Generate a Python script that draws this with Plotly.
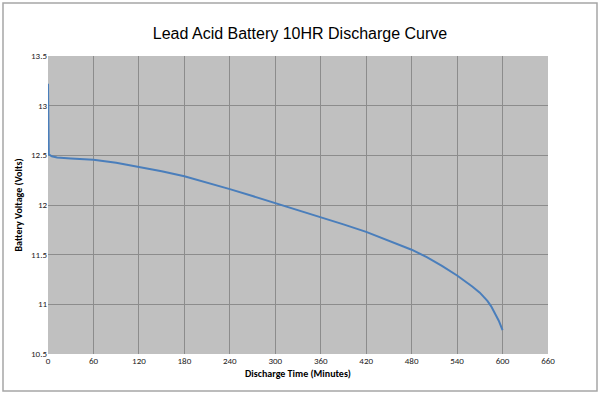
import plotly.graph_objects as go

# Data
time_min = [0, 1, 5, 12, 30, 45, 60, 90, 120, 150, 180, 210, 240, 270, 300, 330,
            360, 390, 420, 450, 480, 500, 520, 540, 550, 560, 570, 575, 580, 585,
            590, 595, 600]
voltage = [13.22, 12.51, 12.49, 12.478, 12.468, 12.463, 12.455, 12.425, 12.385, 12.34,
           12.29, 12.228, 12.16, 12.09, 12.02, 11.95, 11.88, 11.805, 11.73, 11.643,
           11.55, 11.475, 11.388, 11.29, 11.236, 11.18, 11.118, 11.08, 11.035, 10.98,
           10.915, 10.835, 10.74]

x_ticks = [0, 60, 120, 180, 240, 300, 360, 420, 480, 540, 600, 660]
y_ticks = [10.5, 11, 11.5, 12, 12.5, 13, 13.5]
y_tick_labels = ["10.5", "11", "11.5", "12", "12.5", "13", "13.5"]

W, H = 600, 394
ml, mr, mt, mb = 48, 52, 56, 40
pw = W - ml - mr
ph = H - mt - mb


def px_x(p):
    return (p - ml) / pw


def px_y(p):
    return (H - mb - p) / ph


fig = go.Figure()
fig.add_trace(go.Scatter(
    x=time_min, y=voltage, mode="lines",
    line=dict(color="#4a7ebb", width=2, shape="linear"),
    showlegend=False, hoverinfo="x+y"))

fig.add_shape(type="rect", xref="paper", yref="paper",
              x0=px_x(3), x1=px_x(597), y0=px_y(391), y1=px_y(3),
              line=dict(color="#a6a6a6", width=1.5), fillcolor="rgba(0,0,0,0)",
              layer="below")

fig.update_layout(
    width=W, height=H,
    margin=dict(l=ml, r=mr, t=mt, b=mb, autoexpand=False),
    paper_bgcolor="white",
    plot_bgcolor="#c0c0c0",
    title=dict(text="Lead Acid Battery 10HR Discharge Curve",
               font=dict(family="Liberation Sans, Arial", size=16, color="#000000"),
               x=0.5, xanchor="center", y=1 - 33 / H, yanchor="middle"),
    font=dict(family="Carlito, Liberation Sans, Arial", size=9, color="#222222"),
    xaxis=dict(range=[0, 660], tickvals=x_ticks, ticktext=[str(v) for v in x_ticks],
               showgrid=True, gridcolor="#8c8c8c", gridwidth=1, zeroline=False,
               showline=False, ticks="", ticklen=0, automargin=False,
               tickfont=dict(size=9, color="#222222"),
               title=dict(text="<b>Discharge Time (Minutes)</b>",
                          font=dict(size=10, color="#000000"), standoff=4)),
    yaxis=dict(range=[10.5, 13.5], tickvals=y_ticks, ticktext=y_tick_labels,
               showgrid=True, gridcolor="#8c8c8c", gridwidth=1, zeroline=False,
               showline=False, ticks="", ticklen=0, automargin=False,
               tickfont=dict(size=9, color="#222222"),
               title=dict(text="<b>Battery Voltage (Volts)</b>",
                          font=dict(size=10, color="#000000"), standoff=6)),
)

fig.write_html("out.html", config={"displayModeBar": False},
               post_script="document.body.style.margin='0';document.body.style.overflow='hidden';")
